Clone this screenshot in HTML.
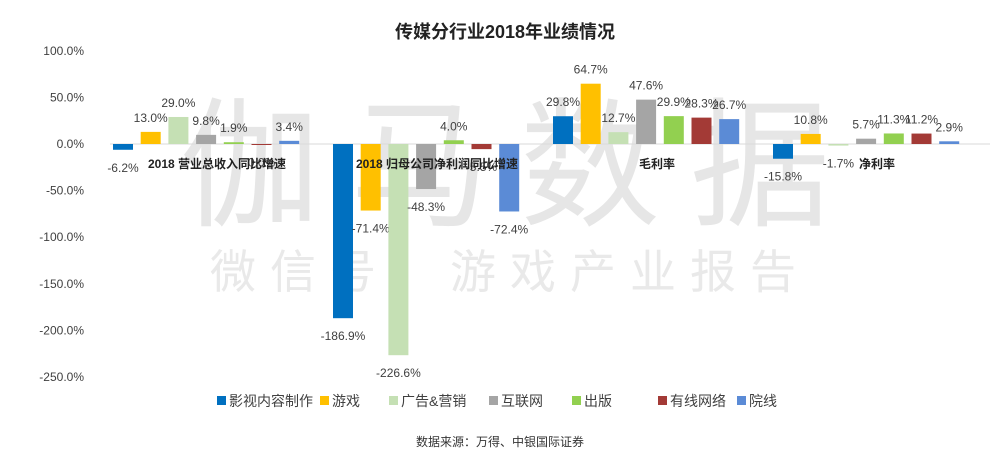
<!DOCTYPE html>
<html><head><meta charset="utf-8">
<style>
body{margin:0;background:#fff;}
svg{display:block;font-family:"Liberation Sans","Noto Sans CJK SC",sans-serif;}
</style></head>
<body>
<svg id="chart" width="1000" height="463" viewBox="0 0 1000 463">
<text x="520" y="215" text-anchor="middle" font-size="140" fill="#e6e6e6" letter-spacing="30">伽马数据</text>
<text x="510" y="288" text-anchor="middle" font-size="46" fill="#e9e9e9" letter-spacing="14">微信号：游戏产业报告</text>
<text x="505" y="38" text-anchor="middle" font-size="18" font-weight="bold" fill="#222">传媒分行业2018年业绩情况</text>
<g id="yaxis"></g>
<g id="bars"></g>
<g id="cats"></g>
<g id="legend"></g>
<text x="500" y="446" text-anchor="middle" font-size="12" fill="#333">数据来源：万得、中银国际证券</text>
</svg>
<script>
const categories=["2018 营业总收入同比增速","2018 归母公司净利润同比增速","毛利率","净利率"];
const seriesNames=["影视内容制作","游戏","广告&营销","互联网","出版","有线网络","院线"];
const s0=[-6.2,-186.9,29.8,-15.8];
const s1=[13.0,-71.4,64.7,10.8];
const s2=[29.0,-226.6,12.7,-1.7];
const s3=[9.8,-48.3,47.6,5.7];
const s4=[1.9,4.0,29.9,11.3];
const s5=[-0.3,-5.5,28.3,11.2];
const s6=[3.4,-72.4,26.7,2.9];
const labels5=["0.0%","-5.5%","28.3%","11.2%"];
const yTicks=[100,50,0,-50,-100,-150,-200,-250];
const series=[s0,s1,s2,s3,s4,s5,s6];
const colors=["#0070C0","#FFC000","#C5E0B4","#A5A5A5","#92D050","#A33A36","#5B8BD6"];
const NS="http://www.w3.org/2000/svg";
function mk(t,a,p){const e=document.createElementNS(NS,t);for(const k in a)e.setAttribute(k,a[k]);p.appendChild(e);return e;}
const y=v=>144-v*0.932;
const gx=i=>110+i*220;
const ya=document.getElementById('yaxis');
yTicks.forEach(t=>{const e=mk('text',{x:84,y:y(t)+4,'text-anchor':'end','font-size':12,fill:'#404040'},ya);


e.textContent=t.toFixed(1)+'%';});
const z=mk('line',{x1:110,x2:990,y1:y(0),y2:y(0),stroke:'#d9d9d9'},ya);


const bg=document.getElementById('bars');
series.forEach((s,si)=>{s.forEach((v,ci)=>{
 const x=gx(ci)+3+si*27.7;
 const r=mk('rect',{x:x,y:Math.min(y(v),y(0)),width:20,height:Math.max(Math.abs(y(v)-y(0)),1),fill:colors[si]},bg);
 
 
 const lbl=si===5?labels5[ci]:v.toFixed(1)+'%';
 const neg=v<0;
 const ty=neg?y(v)+22:y(v)-10;
 const t=mk('text',{x:x+10,y:ty,'text-anchor':'middle','font-size':12,fill:'#404040'},bg);
 
 
 t.textContent=lbl;
});});
const cg=document.getElementById('cats');
categories.forEach((c,i)=>{const t=mk('text',{x:gx(i)+107,y:168,'text-anchor':'middle','font-size':12,'font-weight':'bold',fill:'#222'},cg);


t.textContent=c;});
const lg=document.getElementById('legend');
const lx=[217,320,389,489,572,658,737];
seriesNames.forEach((n,i)=>{
 const g=mk('g',{},lg);
 
 
 mk('rect',{x:lx[i],y:396,width:9,height:9,fill:colors[i]},g);
 const t=mk('text',{x:lx[i]+12,y:406,'font-size':14,fill:'#404040'},g);
 t.textContent=n;
});
</script>
</body></html>
